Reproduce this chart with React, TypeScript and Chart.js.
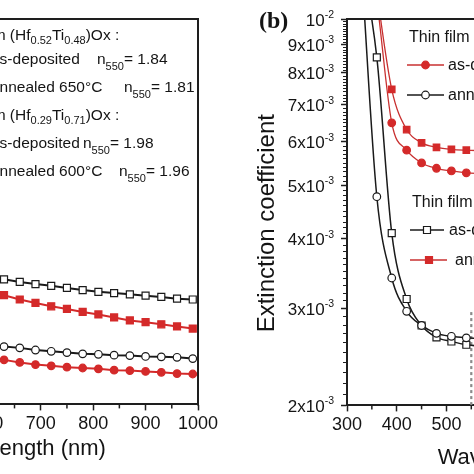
import React, { useEffect, useRef } from 'react';
import { Chart, registerables } from 'chart.js';

Chart.register(...registerables);

const FONT = "'Liberation Sans', Arial, Helvetica, sans-serif";
const SERIF = "'Liberation Serif', 'Times New Roman', serif";
const INK = '#141414';
const AXIS = '#1e1e1e';
const BLACK = '#1a1a1a';
const RED = '#d42a2a';
const RED_LINE = '#c83030';

// ---------- Panel (a): refractive index n vs wavelength (visible right part)
const wavelengthA = [600, 630, 660, 690, 720, 750, 780, 810, 840, 870, 900, 930, 960, 990];
const nAsDep029 = [1.947, 1.942, 1.936, 1.931, 1.927, 1.922, 1.917, 1.913, 1.910, 1.907, 1.904, 1.901, 1.897, 1.895];
const nAnn600 = [1.912, 1.905, 1.895, 1.887, 1.879, 1.873, 1.866, 1.860, 1.853, 1.846, 1.842, 1.837, 1.832, 1.827];
const nAnn650 = [1.788, 1.785, 1.782, 1.777, 1.774, 1.771, 1.768, 1.767, 1.765, 1.764, 1.762, 1.761, 1.760, 1.757];
const nAsDep052 = [1.759, 1.754, 1.748, 1.743, 1.740, 1.737, 1.735, 1.733, 1.730, 1.729, 1.727, 1.725, 1.722, 1.721];

// ---------- Panel (b): extinction coefficient k vs wavelength
const wavelengthB = [330, 360, 390, 420, 450, 480, 510, 540, 570, 600];
const kAsDep052 = [0.0160, 0.0108, 0.00649, 0.00579, 0.00549, 0.00537, 0.00531, 0.00527, 0.00525, 0.00523];
const kAnn650 = [0.0120, 0.00477, 0.00340, 0.00296, 0.00279, 0.00270, 0.002667, 0.00265, 0.00264, 0.00263];
const kAsDep029 = [0.0128, 0.00852, 0.00410, 0.003115, 0.00279, 0.002655, 0.00261, 0.002575, 0.00256, 0.00255];
const kAnn600 = [0.0180, 0.0112, 0.00746, 0.00631, 0.00597, 0.00586, 0.00581, 0.00579, 0.00578, 0.00577];

// ---------- axes / labels
const xMinorTicks = [350, 450, 550, 650, 750, 850, 950];
const yMajorB = [0.002, 0.003, 0.004, 0.005, 0.006, 0.007, 0.008, 0.009, 0.01];
const yMajorLabelB = ['2x10', '3x10', '4x10', '5x10', '6x10', '7x10', '8x10', '9x10', '10'];
const yMajorExpB = ['-3', '-3', '-3', '-3', '-3', '-3', '-3', '-3', '-2'];
const yMinorB: number[] = [];
for (let m = 2; m < 10; m++) for (let k = 1; k < 10; k++) yMinorB.push((m * 10 + k) / 10000);
const markWavelength = 550;
const markTopK = 0.00295;

const film1 = ['0.52', '0.48'];
const film2 = ['0.29', '0.71'];
const n550 = ['1.84', '1.81', '1.98', '1.96'];
const labelAsDep = 'as-deposited';
const labelAnn650 = 'annealed 650°C';
const labelAnn600 = 'annealed 600°C';

type Part = { t: string; sub?: boolean; sup?: boolean };

function richWidth(ctx: CanvasRenderingContext2D, parts: Part[], size: number, small: number) {
  let w = 0;
  for (const p of parts) {
    ctx.font = `${p.sub || p.sup ? small : size}px ${FONT}`;
    w += ctx.measureText(p.t).width;
  }
  return w;
}

function drawRich(ctx: CanvasRenderingContext2D, x: number, y: number, parts: Part[], size: number, small: number, subDy: number, supDy: number) {
  let cx = x;
  ctx.textAlign = 'left';
  ctx.textBaseline = 'alphabetic';
  for (const p of parts) {
    ctx.font = `${p.sub || p.sup ? small : size}px ${FONT}`;
    const dy = p.sub ? subDy : p.sup ? -supDy : 0;
    ctx.fillText(p.t, cx, y + dy);
    cx += ctx.measureText(p.t).width;
  }
  return cx;
}

function filmParts(f: string[]): Part[] {
  return [{ t: 'Thin film (Hf' }, { t: f[0], sub: true }, { t: 'Ti' }, { t: f[1], sub: true }, { t: ')Ox :' }];
}

function nParts(v: string): Part[] {
  return [{ t: 'n' }, { t: '550', sub: true }, { t: '= ' + v }];
}

function legendMark(ctx: CanvasRenderingContext2D, style: string, x0: number, x1: number, mx: number, y: number, fill: string, stroke: string, line: string) {
  ctx.strokeStyle = line;
  ctx.lineWidth = 1.5;
  ctx.beginPath();
  ctx.moveTo(x0, y);
  ctx.lineTo(x1, y);
  ctx.stroke();
  ctx.fillStyle = fill;
  ctx.strokeStyle = stroke;
  ctx.lineWidth = 1.2;
  ctx.beginPath();
  if (style === 'circle') ctx.arc(mx, y, 3.8, 0, Math.PI * 2);
  else ctx.rect(mx - 3.5, y - 3.5, 7, 7);
  ctx.fill();
  ctx.stroke();
}

function series(xs: number[], ys: number[], style: string, fill: string, stroke: string, line: string, lw: number, r: number, smooth: boolean) {
  return {
    data: xs.map((x, i) => ({ x, y: ys[i] })),
    borderColor: line,
    borderWidth: lw,
    backgroundColor: fill,
    pointStyle: style,
    pointRadius: r,
    pointHoverRadius: r,
    pointBackgroundColor: fill,
    pointBorderColor: stroke,
    pointBorderWidth: 1.2,
    tension: smooth ? 0.4 : 0,
    cubicInterpolationMode: smooth ? 'monotone' : 'default',
    fill: false,
  };
}

const LA = 15.5; // legend font size, panel (a)

const panelAPlugin = {
  id: 'panelA',
  afterDraw(chart: any) {
    const { ctx, chartArea: ca, scales } = chart;
    const xs = scales.x;
    const R = ca.right;
    const T = ca.top;
    ctx.save();
    ctx.strokeStyle = AXIS;
    ctx.lineWidth = 2;
    ctx.lineCap = 'square';
    ctx.beginPath();
    ctx.moveTo(ca.left, T);
    ctx.lineTo(R, T);
    ctx.lineTo(R, ca.bottom);
    ctx.stroke();
    ctx.lineCap = 'butt';
    ctx.lineWidth = 1.5;
    for (const v of xMinorTicks) {
      const px = xs.getPixelForValue(v);
      ctx.beginPath();
      ctx.moveTo(px, ca.bottom);
      ctx.lineTo(px, ca.bottom + 4);
      ctx.stroke();
    }
    ctx.fillStyle = INK;
    ctx.font = `22px ${FONT}`;
    ctx.textAlign = 'center';
    ctx.textBaseline = 'alphabetic';
    ctx.fillText('Wavelength (nm)', (ca.left + R) / 2 + 8, ca.bottom + 51);

    // legend
    ctx.fillStyle = INK;
    drawRich(ctx, R - 251, T + 21, filmParts(film1), LA, 11, 4, 0);
    legendMark(ctx, 'circle', R - 255, R - 220, R - 237, T + 40, RED, RED, RED);
    ctx.fillStyle = INK;
    drawRich(ctx, R - 207, T + 45, [{ t: labelAsDep }], LA, 11, 6, 0);
    drawRich(ctx, R - 101, T + 45, nParts(n550[0]), LA, 11, 6, 0);
    legendMark(ctx, 'circle', R - 255, R - 220, R - 237, T + 68, '#fff', BLACK, BLACK);
    ctx.fillStyle = INK;
    drawRich(ctx, R - 207, T + 73, [{ t: labelAnn650 }], LA, 11, 6, 0);
    drawRich(ctx, R - 74, T + 73, nParts(n550[1]), LA, 11, 6, 0);
    ctx.fillStyle = INK;
    drawRich(ctx, R - 251, T + 101, filmParts(film2), LA, 11, 4, 0);
    legendMark(ctx, 'rect', R - 255, R - 220, R - 237, T + 124, '#fff', BLACK, BLACK);
    ctx.fillStyle = INK;
    drawRich(ctx, R - 207, T + 129, [{ t: labelAsDep }], LA, 11, 6, 0);
    drawRich(ctx, R - 115, T + 129, nParts(n550[2]), LA, 11, 6, 0);
    legendMark(ctx, 'rect', R - 255, R - 220, R - 237, T + 152, RED, RED, RED);
    ctx.fillStyle = INK;
    drawRich(ctx, R - 207, T + 157, [{ t: labelAnn600 }], LA, 11, 6, 0);
    drawRich(ctx, R - 79, T + 157, nParts(n550[3]), LA, 11, 6, 0);
    ctx.restore();
  },
};

const panelBPlugin = {
  id: 'panelB',
  beforeDatasetsDraw(chart: any) {
    const { ctx, chartArea: ca, scales } = chart;
    const px = scales.x.getPixelForValue(markWavelength);
    const py = scales.y.getPixelForValue(markTopK);
    ctx.save();
    ctx.strokeStyle = '#8a8a8a';
    ctx.lineWidth = 2.2;
    ctx.setLineDash([3, 3]);
    ctx.beginPath();
    ctx.moveTo(px, py);
    ctx.lineTo(px, ca.bottom);
    ctx.stroke();
    ctx.restore();
  },
  afterDraw(chart: any) {
    const { ctx, chartArea: ca, scales } = chart;
    const xs = scales.x;
    const ys = scales.y;
    const L = ca.left;
    const T = ca.top;
    ctx.save();
    ctx.strokeStyle = AXIS;
    ctx.lineWidth = 2;
    ctx.lineCap = 'square';
    ctx.beginPath();
    ctx.moveTo(L, T);
    ctx.lineTo(ca.right, T);
    ctx.lineTo(ca.right, ca.bottom);
    ctx.stroke();
    ctx.lineCap = 'butt';
    ctx.lineWidth = 1.5;
    for (const v of xMinorTicks) {
      const px = xs.getPixelForValue(v);
      ctx.beginPath();
      ctx.moveTo(px, ca.bottom);
      ctx.lineTo(px, ca.bottom + 4);
      ctx.stroke();
    }
    ctx.lineWidth = 1;
    for (const v of yMinorB) {
      const py = Math.round(ys.getPixelForValue(v)) + 0.5;
      ctx.beginPath();
      ctx.moveTo(L, py);
      ctx.lineTo(L - 4, py);
      ctx.stroke();
    }
    // y tick labels with superscripts
    ctx.fillStyle = INK;
    yMajorB.forEach((v, i) => {
      const py = ys.getPixelForValue(v);
      const parts: Part[] = [{ t: yMajorLabelB[i] }, { t: yMajorExpB[i], sup: true }];
      const w = richWidth(ctx, parts, 17, 10.5);
      drawRich(ctx, L - 13 - w, py + 6.5, parts, 17, 10.5, 0, 7.5);
    });
    // axis titles
    ctx.font = `22px ${FONT}`;
    ctx.textAlign = 'center';
    ctx.textBaseline = 'alphabetic';
    ctx.fillText('Wavelength (nm)', (L + ca.right) / 2, ca.bottom + 59);
    ctx.save();
    ctx.translate(L - 73, (T + ca.bottom) / 2 + 11);
    ctx.rotate(-Math.PI / 2);
    ctx.font = `24px ${FONT}`;
    ctx.fillText('Extinction coefficient', 0, 0);
    ctx.restore();
    // panel label
    ctx.font = `bold 24px ${SERIF}`;
    ctx.textAlign = 'left';
    ctx.fillText('(b)', L - 88, T + 9);

    // legend
    ctx.fillStyle = INK;
    drawRich(ctx, L + 62, T + 23, filmParts(film1), 16, 11, 4, 0);
    legendMark(ctx, 'circle', L + 60, L + 97, L + 78.5, T + 46, RED, RED, RED_LINE);
    ctx.fillStyle = INK;
    drawRich(ctx, L + 101, T + 51, [{ t: labelAsDep }], 16, 11, 6, 0);
    legendMark(ctx, 'circle', L + 60, L + 97, L + 78.5, T + 76, '#fff', BLACK, BLACK);
    ctx.fillStyle = INK;
    drawRich(ctx, L + 101, T + 81, [{ t: labelAnn650 }], 16, 11, 6, 0);
    drawRich(ctx, L + 65, T + 188, filmParts(film2), 16, 11, 4, 0);
    legendMark(ctx, 'rect', L + 63, L + 97, L + 80, T + 211, '#fff', BLACK, BLACK);
    ctx.fillStyle = INK;
    drawRich(ctx, L + 102, T + 216, [{ t: labelAsDep }], 16, 11, 6, 0);
    legendMark(ctx, 'rect', L + 63, L + 100, L + 82, T + 241, RED, RED, RED_LINE);
    ctx.fillStyle = INK;
    drawRich(ctx, L + 108, T + 246, [{ t: labelAnn600 }], 16, 11, 6, 0);
    ctx.restore();
  },
};

const xAxisCommon = () => ({
  type: 'linear',
  position: 'bottom',
  min: 300,
  max: 1000,
  ticks: {
    stepSize: 100,
    autoSkip: false,
    maxRotation: 0,
    padding: 3,
    color: INK,
    font: { family: FONT, size: 18 },
    callback: (v: any) => String(v),
  },
  grid: { drawOnChartArea: false, drawTicks: true, tickLength: 6, tickWidth: 1.5, tickColor: AXIS },
  border: { display: true, color: AXIS, width: 2 },
});

function configA() {
  return {
    type: 'line',
    data: {
      datasets: [
        series(wavelengthA, nAsDep029, 'rect', '#ffffff', BLACK, BLACK, 2, 4.95, false),
        series(wavelengthA, nAnn600, 'rect', RED, RED, RED, 2, 4.95, false),
        series(wavelengthA, nAnn650, 'circle', '#ffffff', BLACK, BLACK, 2, 3.8, false),
        series(wavelengthA, nAsDep052, 'circle', RED, RED, RED, 2, 3.8, false),
      ],
    },
    options: {
      animation: false,
      responsive: false,
      devicePixelRatio: 1,
      events: [],
      layout: { padding: { left: 10, right: 30, top: 10, bottom: 45 } },
      plugins: { legend: { display: false }, tooltip: { enabled: false } },
      scales: {
        x: xAxisCommon(),
        y: {
          type: 'linear',
          min: 1.65,
          max: 2.55,
          ticks: { display: false, stepSize: 0.1 },
          grid: { drawOnChartArea: false, drawTicks: true, tickLength: 6, tickColor: AXIS },
          border: { display: true, color: AXIS, width: 2 },
        },
      },
    },
    plugins: [panelAPlugin],
  };
}

function configB() {
  return {
    type: 'line',
    data: {
      datasets: [
        series(wavelengthB, kAnn650, 'circle', '#ffffff', BLACK, BLACK, 1.5, 3.8, true),
        series(wavelengthB, kAsDep029, 'rect', '#ffffff', BLACK, BLACK, 1.5, 4.95, true),
        series(wavelengthB, kAsDep052, 'circle', RED, RED, RED_LINE, 1.3, 3.8, true),
        series(wavelengthB, kAnn600, 'rect', RED, RED, RED_LINE, 1.3, 4.6, true),
      ],
    },
    options: {
      animation: false,
      responsive: false,
      devicePixelRatio: 1,
      events: [],
      layout: { padding: { left: 100, right: 30, top: 10, bottom: 50 } },
      plugins: { legend: { display: false }, tooltip: { enabled: false } },
      scales: {
        x: xAxisCommon(),
        y: {
          type: 'logarithmic',
          min: 0.002,
          max: 0.01,
          afterBuildTicks: (axis: any) => {
            axis.ticks = yMajorB.map((v) => ({ value: v }));
          },
          ticks: { display: false },
          grid: { drawOnChartArea: false, drawTicks: true, tickLength: 6, tickWidth: 1.5, tickColor: AXIS },
          border: { display: true, color: AXIS, width: 2 },
        },
      },
    },
    plugins: [panelBPlugin],
  };
}

type Box = { left: number; top: number; width: number; height: number };

function fitChart(canvas: HTMLCanvasElement, make: () => any, box: Box, gw: number, gh: number): Chart {
  const setSize = (w: number, h: number) => {
    canvas.width = w;
    canvas.height = h;
    canvas.style.width = `${w}px`;
    canvas.style.height = `${h}px`;
  };
  setSize(gw, gh);
  let chart = new Chart(canvas, make());
  let ca = chart.chartArea;
  const w = Math.round(gw + box.width - (ca.right - ca.left));
  const h = Math.round(gh + box.height - (ca.bottom - ca.top));
  chart.destroy();
  setSize(w, h);
  chart = new Chart(canvas, make());
  ca = chart.chartArea;
  canvas.style.left = `${Math.round(box.left - ca.left)}px`;
  canvas.style.top = `${Math.round(box.top - ca.top)}px`;
  return chart;
}

export default function App() {
  const leftRef = useRef<HTMLCanvasElement>(null);
  const rightRef = useRef<HTMLCanvasElement>(null);

  useEffect(() => {
    const charts: Chart[] = [];
    if (leftRef.current) {
      charts.push(fitChart(leftRef.current, configA, { left: -168.5, top: 19, width: 366.5, height: 385 }, 480, 500));
    }
    if (rightRef.current) {
      charts.push(fitChart(rightRef.current, configB, { left: 347, top: 19, width: 347.5, height: 386 }, 520, 500));
    }
    return () => charts.forEach((c) => c.destroy());
  }, []);

  return (
    <div style={{ position: 'fixed', left: 0, top: 0, width: 474, height: 474, overflow: 'hidden', background: '#ffffff' }}>
      <canvas ref={leftRef} style={{ position: 'absolute', left: 0, top: 0 }} />
      <canvas ref={rightRef} style={{ position: 'absolute', left: 0, top: 0 }} />
    </div>
  );
}
